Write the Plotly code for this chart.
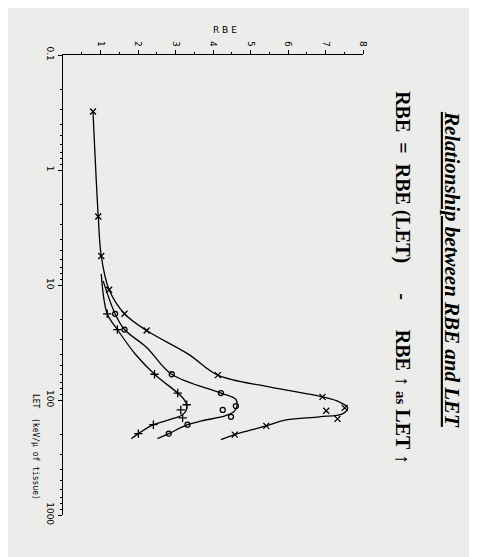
import plotly.graph_objects as go

# shared low-LET part (LET keV/u, RBE)
common_let = [0.31, 2.54, 5.6]
common_rbe = [0.80, 0.94, 1.02]

# measured points
c1_let = [11, 17.8, 24.9, 60.8, 94, 117, 124, 146, 168, 200]
c1_rbe = [1.23, 1.64, 2.23, 4.13, 6.92, 7.51, 7.02, 7.32, 5.42, 4.58]
c2_let = [17.8, 24.4, 59.7, 87, 113, 122, 140, 164, 196]
c2_rbe = [1.39, 1.64, 2.90, 4.21, 4.61, 4.26, 4.48, 3.32, 2.82]
c3_let = [17.8, 24.4, 59.7, 87, 110, 122, 143, 164, 196]
c3_rbe = [1.18, 1.45, 2.44, 3.06, 3.30, 3.14, 3.19, 2.41, 2.01]

# hand drawn curves
l1_let = [0.31, 2.54, 5.6, 11, 17.8, 24.9, 40.1, 60.8, 77, 94, 104, 117, 132, 140, 149, 168, 200, 221]
l1_rbe = [0.80, 0.94, 1.02, 1.23, 1.64, 2.23, 3.35, 4.13, 5.50, 6.92, 7.37, 7.59, 7.45, 6.84, 5.95, 5.42, 4.58, 4.21]
l2_let = [9.2, 17.8, 24.4, 34.9, 59.7, 87, 99, 113, 126, 137, 152, 164, 196, 217]
l2_rbe = [1.07, 1.39, 1.64, 2.23, 2.90, 4.21, 4.61, 4.64, 4.56, 4.34, 3.70, 3.32, 2.82, 2.52]
l3_let = [8.0, 17.8, 24.4, 40, 59.7, 87, 98, 110, 126, 137, 149, 164, 196, 217]
l3_rbe = [1.02, 1.18, 1.45, 1.93, 2.44, 3.06, 3.22, 3.30, 3.27, 3.14, 2.82, 2.41, 2.01, 1.82]

curve_labels = ["1", "2", "3"]
label_let = [32.9, 53, 74]
label_rbe = [2.98, 2.92, 2.92]

let_major = [0.1, 1, 10, 100, 1000]
let_major_text = ["0.1", "1", "10", "100", "1000"]
let_minor = [k * 10 ** e for e in range(-1, 3) for k in range(2, 10)]
rbe_ticks = [1, 2, 3, 4, 5, 6, 7, 8]

fig = go.Figure()

for xs, ys in [(l1_rbe, l1_let), (l2_rbe, l2_let), (l3_rbe, l3_let)]:
    fig.add_trace(go.Scatter(x=xs, y=ys, mode="lines",
                             line=dict(color="black", width=1.3, shape="spline", smoothing=1.0),
                             hoverinfo="skip"))

mk = dict(color="black", size=6, line=dict(color="black", width=1.3))
fig.add_trace(go.Scatter(x=common_rbe + c1_rbe, y=common_let + c1_let, mode="markers",
                         marker=dict(symbol="x-thin-open", **mk)))
fig.add_trace(go.Scatter(x=c2_rbe, y=c2_let, mode="markers",
                         marker=dict(symbol="circle-open", color="black", size=5,
                                     line=dict(color="black", width=1.3))))
fig.add_trace(go.Scatter(x=c3_rbe, y=c3_let, mode="markers",
                         marker=dict(symbol="cross-thin-open", **mk)))

for t, lx, ly in zip(curve_labels, label_rbe, label_let):
    fig.add_annotation(x=lx, y=ly, text=t, showarrow=False, textangle=90,
                       font=dict(size=9, family="DejaVu Sans", color="black"))

# axis titles and page text
fig.add_annotation(xref="paper", yref="paper", x=0.54, y=1.0, yshift=25, text="R B E",
                   xanchor="center", yanchor="middle", showarrow=False,
                   font=dict(size=9, family="DejaVu Sans", color="black"))
fig.add_annotation(xref="paper", yref="paper", x=0.0, xshift=-28, y=0.148,
                   xanchor="center", yanchor="middle",
                   text="LET  (keV/μ of tissue)", showarrow=False, textangle=90,
                   font=dict(size=8, family="DejaVu Sans Mono", color="black"))
fig.add_annotation(xref="paper", yref="paper", x=1.0, xshift=89, y=0.535,
                   xanchor="center", yanchor="middle",
                   text="<b><i><u>Relationship between RBE and LET</u></i></b>", showarrow=False,
                   textangle=90, font=dict(size=21, family="Liberation Serif", color="black"))
fig.add_annotation(xref="paper", yref="paper", x=1.0, xshift=40, y=0.517,
                   xanchor="center", yanchor="middle",
                   text="<b>RBE  =  RBE (LET)      -      RBE ↑ <span style='font-size:15px'>as</span> LET ↑</b>",
                   showarrow=False, textangle=90,
                   font=dict(size=20, family="Liberation Serif", color="black"))

fig.update_layout(
    width=477, height=557,
    margin=dict(l=55, r=122, t=47, b=50),
    paper_bgcolor="#ececea", plot_bgcolor="#ececea",
    showlegend=False,
    xaxis=dict(range=[0, 8], side="top", tickvals=rbe_ticks, ticks="outside", ticklen=4,
               tickangle=90, showgrid=False, zeroline=False, showline=True, linecolor="black",
               linewidth=1.3, tickcolor="black", automargin=False,
               tickfont=dict(size=9, family="DejaVu Sans", color="black"),
               minor=dict(tickvals=[0.5, 1.5, 2.5, 3.5, 4.5, 5.5, 6.5, 7.5], ticks="outside",
                          ticklen=2, tickcolor="black")),
    yaxis=dict(type="log", range=[3, -1], tickvals=let_major, ticktext=let_major_text,
               ticks="outside", ticklen=4, tickangle=90, showgrid=False, zeroline=False,
               showline=True, linecolor="black", linewidth=1.3, tickcolor="black",
               automargin=False,
               tickfont=dict(size=9, family="DejaVu Sans", color="black"),
               minor=dict(tickvals=let_minor, ticks="outside", ticklen=2, tickcolor="black")),
)

fig.write_html("out.html")
